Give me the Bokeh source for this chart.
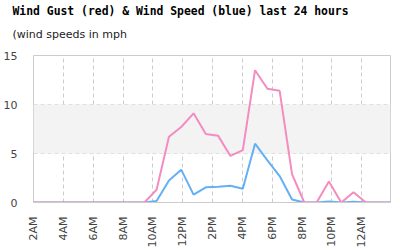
from bokeh.plotting import figure
from bokeh.models import Range1d, FixedTicker, Title, BoxAnnotation
from bokeh.embed import file_html
from bokeh.resources import INLINE
import math

# hours since midnight (values > 24 are next day)
hours = [2.00, 2.83, 3.65, 4.48, 5.30, 6.13, 6.95, 7.78, 8.60, 9.43,
         10.25, 11.08, 11.90, 12.73, 13.55, 14.38, 15.20, 16.03, 16.85, 17.68,
         18.50, 19.33, 20.15, 20.98, 21.80, 22.63, 23.45, 24.28, 25.10, 25.93]
wind_gust = [0, 0, 0, 0, 0, 0, 0, 0, 0, 0,
             1.3, 6.7, 7.7, 9.1, 7.0, 6.8, 4.75, 5.35, 13.5, 11.6,
             11.4, 2.9, 0, 0, 2.15, 0, 1.05, 0, 0, 0]
wind_speed = [0, 0, 0, 0, 0, 0, 0, 0, 0, 0,
              0.15, 2.25, 3.35, 0.8, 1.55, 1.6, 1.7, 1.4, 6.0, 4.3,
              2.7, 0.3, 0, 0, 0.1, 0, 0.07, 0, 0, 0]
tick_hours = [2, 4, 6, 8, 10, 12, 14, 16, 18, 20, 22, 24]
tick_labels = ["2AM", "4AM", "6AM", "8AM", "10AM", "12PM", "2PM", "4PM",
               "6PM", "8PM", "10PM", "12AM"]
y_ticks = [0, 5, 10, 15]

p = figure(width=400, height=250, output_backend="svg", toolbar_location=None,
           x_range=Range1d(hours[0], hours[-1]), y_range=Range1d(0, 15),
           min_border_left=31, min_border_right=10, min_border_bottom=0,
           min_border_top=0)
p.background_fill_color = "white"
p.border_fill_color = "white"
p.outline_line_color = "#cccccc"

p.title = Title(text="Wind Gust (red) & Wind Speed (blue) last 24 hours",
                text_font="DejaVu Sans Mono", text_font_style="bold",
                text_font_size="11.4px", text_color="#000000",
                align="left", offset=-21, standoff=2)
p.add_layout(Title(text=" ", text_font_size="1px", standoff=5), "above")
p.add_layout(Title(text="(wind speeds in mph", text_font="DejaVu Sans",
                   text_font_style="normal", text_font_size="11px",
                   text_color="#222222", align="left", offset=-21, standoff=14), "above")

p.add_layout(BoxAnnotation(bottom=5, top=10, fill_color="#f3f3f3", fill_alpha=1,
                           line_alpha=0, level="underlay"))

p.line(hours, wind_speed, line_color="#64b0f4", line_width=2)
p.line(hours, wind_gust, line_color="#f48cc0", line_width=2)

p.xaxis.ticker = FixedTicker(ticks=tick_hours)
p.xaxis.major_label_overrides = {h: l for h, l in zip(tick_hours, tick_labels)}
p.xaxis.major_label_orientation = math.pi / 2
p.yaxis.ticker = FixedTicker(ticks=y_ticks)
for ax in (p.xaxis, p.yaxis):
    ax.major_tick_line_color = None
    ax.minor_tick_line_color = None
    ax.axis_line_color = "#cccccc"
    ax.major_label_text_font = "DejaVu Sans"
    ax.major_label_text_font_size = "11px"
    ax.major_label_text_color = "#444444"
p.yaxis.axis_line_color = None
p.xaxis.major_label_standoff = 8
p.yaxis.major_label_standoff = 10

p.xgrid.grid_line_color = "#cccccc"
p.xgrid.grid_line_dash = "4 3"
p.ygrid.grid_line_color = "#cccccc"
p.ygrid.grid_line_dash = "4 3"

open("out.html", "w").write(file_html(p, INLINE))
